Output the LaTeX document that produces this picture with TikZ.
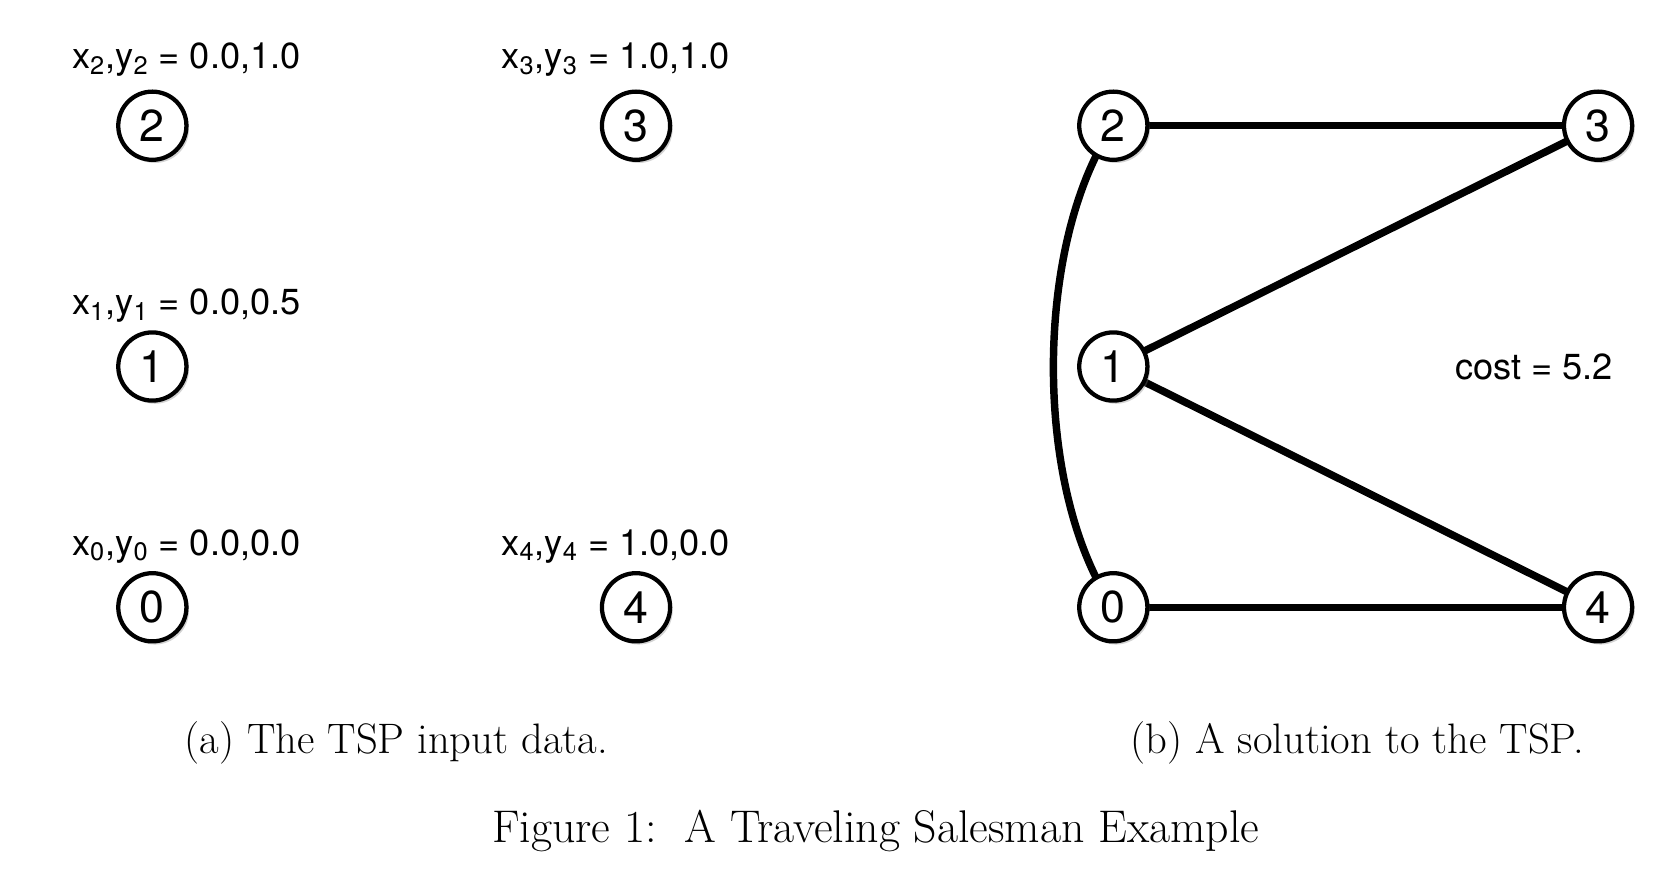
\documentclass[tikz,border=0pt]{standalone}
\usepackage{fontspec}
\setmainfont{Latin Modern Roman}
\newfontfamily\hsans{TeX Gyre Heros}
\usetikzlibrary{shadows}
\begin{document}
\begin{tikzpicture}[x=0.5pt,y=-0.5pt,
  city/.style={circle,draw,line width=2pt,fill=white,minimum size=32pt,inner sep=0pt,font=\hsans\fontsize{21}{21}\selectfont,drop shadow={shadow xshift=1.2pt,shadow yshift=-1.5pt,opacity=0.35}},
  lab/.style={font=\hsans\fontsize{17}{17}\selectfont},
  edge/.style={line width=3.5pt},
  captxt/.style={font=\fontsize{20}{20}\selectfont}]
\useasboundingbox (0,0) rectangle (1560,830);
\node[city] (a2) at (143,118) {2};
\node[city] (a3) at (597,118) {3};
\node[city] (a1) at (143,344) {1};
\node[city] (a0) at (143,570) {0};
\node[city] (a4) at (597,570) {4};
\node[lab] (l2) at (175,56) {x\textsubscript{2},y\textsubscript{2} = 0.0,1.0};
\node[lab] (l3) at (578,56) {x\textsubscript{3},y\textsubscript{3} = 1.0,1.0};
\node[lab] (l1) at (175,287) {x\textsubscript{1},y\textsubscript{1} = 0.0,0.5};
\node[lab] (l0) at (175,513) {x\textsubscript{0},y\textsubscript{0} = 0.0,0.0};
\node[lab] (l4) at (578,513) {x\textsubscript{4},y\textsubscript{4} = 1.0,0.0};
\coordinate (c2) at (1045,118);
\coordinate (c3) at (1500,118);
\coordinate (c1) at (1045,344);
\coordinate (c0) at (1045,570);
\coordinate (c4) at (1500,570);
\draw[edge] (c2) -- (c3);
\draw[edge] (c1) -- (c3);
\draw[edge] (c1) -- (c4);
\draw[edge] (c0) -- (c4);
\draw[edge] (c2) .. controls (970,230) and (970,460) .. (c0);
\node[city] (b2) at (c2) {2};
\node[city] (b3) at (c3) {3};
\node[city] (b1) at (c1) {1};
\node[city] (b0) at (c0) {0};
\node[city] (b4) at (c4) {4};
\node[lab] (cost) at (1440,344) {cost = 5.2};
\node[captxt] (ca) at (372,697) {(a) The TSP input data.};
\node[captxt] (cb) at (1274,697) {(b) A solution to the TSP.};
\node[captxt,font=\fontsize{21.5}{21.5}\selectfont] (fig) at (822,780) {Figure 1:\ \ A Traveling Salesman Example};
\end{tikzpicture}
\end{document}
